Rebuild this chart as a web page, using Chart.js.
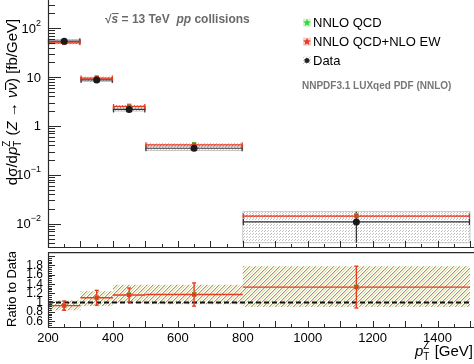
<!DOCTYPE html>
<html>
<head>
<meta charset="utf-8">
<script src="https://cdn.jsdelivr.net/npm/chart.js@4"></script>
<style>
html, body { margin: 0; padding: 0; background: #fff; }
#wrap { position: relative; width: 474px; height: 364px; overflow: hidden; background: #fff; }
canvas { position: absolute; left: 0; }
#top { top: 0; }
#bot { top: 252px; }
</style>
</head>
<body>
<div id="wrap">
  <canvas id="top" width="474" height="252"></canvas>
  <canvas id="bot" width="474" height="112"></canvas>
</div>
<script>
const FONT = "'Liberation Sans', Arial, Helvetica, sans-serif";
const RED = '#e63a22';
const GREEN = '#3bd43b';
const AXIS = '#2a2a2a';

// pT^Z bins [GeV]
const binLo = [200, 300, 400, 500, 800];
const binHi = [300, 400, 500, 800, 1500];
const binMid = [250, 350, 450, 650, 1150];

// top panel, dsigma/dpT [fb/GeV]
const dataVal = [54, 8.7, 2.17, 0.35, 0.0109];
const dataErr = [4.5, 0.65, 0.16, 0.035, 0.0068];
const ewVal = [50, 9.5, 2.5, 0.41, 0.0144];
const ewErr = [2.5, 0.45, 0.12, 0.02, 0.0009];
const qcdVal = [51, 9.9, 2.6, 0.425, 0.0152];

// ratio panel
const ewRatio = [0.93, 1.10, 1.16, 1.17, 1.33];
const qcdRatio = [0.94, 1.11, 1.17, 1.18, 1.34];
const ratioErr = [0.10, 0.16, 0.15, 0.25, 0.45];
const bandLo = [0.83, 0.92, 0.99, 0.96, 0.90];
const bandHi = [1.04, 1.24, 1.38, 1.38, 1.78];

// axis ticks
const logTicks = [0.01, 0.1, 1, 10, 100];
const ratioTicks = [0.6, 0.8, 1, 1.2, 1.4, 1.6, 1.8];
const xTicks = [200, 400, 600, 800, 1000, 1200, 1400];

// fill patterns (pixel drawn so colours stay crisp)
const patCtx = document.createElement('canvas').getContext('2d');
function makePattern(w, h, draw) {
    const c = document.createElement('canvas');
    c.width = w; c.height = h;
    draw(c.getContext('2d'));
    return patCtx.createPattern(c, 'repeat');
}
function diag(g, n, off, color) {
    g.fillStyle = color;
    for (let i = 0; i < n; i++) g.fillRect((i + off) % n, n - 1 - i, 1, 1);
}
const ratioHatch = makePattern(6, 6, g => {
    diag(g, 6, 0, 'rgba(238,110,70,0.95)');
    diag(g, 6, 1, 'rgba(245,170,140,0.5)');
    diag(g, 6, 3, 'rgba(150,200,110,0.6)');
});
const redHatch = makePattern(6, 6, g => { diag(g, 6, 0, 'rgba(230,70,40,0.75)'); diag(g, 6, 3, 'rgba(230,70,40,0.5)'); });
const dotPat = makePattern(3, 3, g => { g.fillStyle = 'rgba(110,110,110,0.42)'; g.fillRect(0, 0, 1, 1); g.fillRect(1, 2, 1, 1); });

function line(ctx, x0, y0, x1, y1) {
    ctx.beginPath(); ctx.moveTo(x0, y0); ctx.lineTo(x1, y1); ctx.stroke();
}

// draws text made of pieces (with stacked sub/superscripts) on one baseline
function drawRich(ctx, parts, x, y, align) {
    const widths = parts.map(p => {
        ctx.font = p.f;
        if (p.sub != null) return Math.max(ctx.measureText(p.sub).width, ctx.measureText(p.sup).width) + 1;
        return ctx.measureText(p.t).width;
    });
    const total = widths.reduce((a, b) => a + b, 0);
    let cx = align === 'center' ? x - total / 2 : align === 'right' ? x - total : x;
    ctx.textAlign = 'left';
    ctx.textBaseline = 'alphabetic';
    parts.forEach((p, i) => {
        ctx.font = p.f;
        if (p.sub != null) {
            ctx.fillText(p.sup, cx, y - p.up);
            ctx.fillText(p.sub, cx, y + p.down);
        } else {
            ctx.fillText(p.t, cx, y);
            if (p.over) ctx.fillRect(cx + 0.5, y - p.over, widths[i], 1.1);
        }
        cx += widths[i];
    });
}

function star(ctx, cx, cy, r, color) {
    ctx.beginPath();
    for (let k = 0; k < 10; k++) {
        const a = -Math.PI / 2 + k * Math.PI / 5;
        const rr = k % 2 ? r * 0.45 : r;
        ctx.lineTo(cx + rr * Math.cos(a), cy + rr * Math.sin(a));
    }
    ctx.closePath();
    ctx.fillStyle = color;
    ctx.fill();
}

const topDecor = {
    id: 'topDecor',
    beforeDatasetsDraw(chart) {
        const { ctx, scales: { x, y } } = chart;
        ctx.save();
        binMid.forEach((m, i) => {
            const x0 = x.getPixelForValue(binLo[i]), x1 = x.getPixelForValue(binHi[i]);
            const xm = x.getPixelForValue(m);
            // data uncertainty box
            const d0 = y.getPixelForValue(dataVal[i] + dataErr[i]);
            const d1 = y.getPixelForValue(dataVal[i] - dataErr[i]);
            ctx.fillStyle = dotPat;
            ctx.fillRect(x0, d0, x1 - x0, d1 - d0);
            ctx.strokeStyle = 'rgba(110,110,110,0.45)'; ctx.lineWidth = 0.8;
            ctx.strokeRect(x0, d0, x1 - x0, d1 - d0);
            // theory (EW) band
            let e0 = y.getPixelForValue(ewVal[i] + ewErr[i]);
            let e1 = y.getPixelForValue(ewVal[i] - ewErr[i]);
            if (e1 - e0 < 3) { const c = (e0 + e1) / 2; e0 = c - 1.5; e1 = c + 1.5; }
            ctx.fillStyle = redHatch;
            ctx.fillRect(x0, e0, x1 - x0, e1 - e0);
            // data line + caps + error bar
            const yd = y.getPixelForValue(dataVal[i]);
            ctx.strokeStyle = '#333'; ctx.lineWidth = 1.2;
            line(ctx, x0, yd, x1, yd);
            line(ctx, x0 + 0.6, yd - 3, x0 + 0.6, yd + 3);
            line(ctx, x1 - 0.6, yd - 3, x1 - 0.6, yd + 3);
            line(ctx, xm, d0, xm, d1);
            // EW line + error bar
            const ye = y.getPixelForValue(ewVal[i]);
            ctx.strokeStyle = RED; ctx.lineWidth = 1.3;
            line(ctx, x0, ye, x1, ye);
            line(ctx, x0 + 0.6, ye - 2.5, x0 + 0.6, ye + 2.5);
            line(ctx, x1 - 0.6, ye - 2.5, x1 - 0.6, ye + 2.5);
            line(ctx, xm, e0, xm, e1);
        });
        ctx.restore();
    },
    afterDraw(chart) {
        const { ctx, chartArea: a, scales: { x, y } } = chart;
        ctx.save();
        // frame
        ctx.strokeStyle = AXIS; ctx.lineWidth = 1.2;
        line(ctx, a.left + 0.5, 0, a.left + 0.5, a.bottom);
        line(ctx, a.left, a.bottom - 0.5, 474, a.bottom - 0.5);
        // log ticks
        ctx.lineWidth = 1;
        for (let e = -3; e <= 2; e++) {
            for (let k = 1; k <= 9; k++) {
                const v = k * Math.pow(10, e);
                if (v < y.min || v > y.max) continue;
                const py = Math.round(y.getPixelForValue(v)) + 0.5;
                line(ctx, a.left, py, a.left + (k === 1 ? 13 : 7), py);
            }
        }
        // x ticks
        for (let v = 200; v <= 1500; v += 50) {
            const px = Math.round(x.getPixelForValue(v)) + 0.5;
            line(ctx, px, a.bottom, px, a.bottom - (v % 100 === 0 ? 7 : 4));
        }
        // log tick labels
        ctx.fillStyle = '#000';
        ctx.textBaseline = 'middle';
        logTicks.forEach(v => {
            const py = y.getPixelForValue(v);
            const ex = Math.round(Math.log10(v));
            const right = 41;
            if (ex === 0 || ex === 1) {
                ctx.font = '13px ' + FONT; ctx.textAlign = 'right';
                ctx.fillText(ex === 0 ? '1' : '10', right, py + 1);
            } else {
                const sup = ex < 0 ? '\u2212' + (-ex) : String(ex);
                ctx.font = '9px ' + FONT;
                const sw = ctx.measureText(sup).width;
                ctx.textAlign = 'left';
                ctx.fillText(sup, right - sw, py - 5);
                ctx.font = '13px ' + FONT; ctx.textAlign = 'right';
                ctx.fillText('10', right - sw, py + 1);
            }
        });
        // y title (rotated)
        ctx.save();
        ctx.translate(17, 102);
        ctx.rotate(-Math.PI / 2);
        ctx.fillStyle = '#000';
        const n = '15px ' + FONT, it = 'italic 15px ' + FONT;
        drawRich(ctx, [
            { t: 'd\u03C3/d', f: n },
            { t: 'p', f: it },
            { sub: 'T', sup: 'Z', f: '10px ' + FONT, up: 7, down: 4 },
            { t: ' (', f: n },
            { t: 'Z', f: it },
            { t: ' \u2192 ', f: n },
            { t: '\u03BD', f: it },
            { t: '\u03BD', f: it, over: 12 },
            { t: ') [fb/GeV]', f: n }
        ], 0, 0, 'center');
        ctx.restore();
        // energy label
        ctx.fillStyle = '#6a6a6a';
        const b = 'bold 12px ' + FONT, bi = 'italic bold 12px ' + FONT;
        drawRich(ctx, [
            { t: '\u221A', f: b },
            { t: 's', f: bi, over: 10 },
            { t: ' = 13 TeV  ', f: b },
            { t: 'pp', f: bi },
            { t: ' collisions', f: b }
        ], 105, 23, 'left');
        // legend
        const rows = [
            { label: 'NNLO QCD', y: 22.7 },
            { label: 'NNLO QCD+NLO EW', y: 41.7 },
            { label: 'Data', y: 60.5 }
        ];
        ctx.fillStyle = 'rgba(60,220,60,0.25)'; ctx.fillRect(303, rows[0].y - 4, 8, 8);
        star(ctx, 307, rows[0].y, 4, GREEN);
        ctx.fillStyle = 'rgba(230,60,30,0.25)'; ctx.fillRect(303, rows[1].y - 4, 8, 8);
        star(ctx, 307, rows[1].y, 4, RED);
        ctx.fillStyle = dotPat; ctx.fillRect(303, rows[2].y - 4, 8, 8);
        ctx.fillStyle = '#222';
        ctx.beginPath(); ctx.arc(307, rows[2].y, 2.5, 0, Math.PI * 2); ctx.fill();
        ctx.fillStyle = '#000'; ctx.font = '13px ' + FONT;
        ctx.textAlign = 'left'; ctx.textBaseline = 'middle';
        rows.forEach(r => ctx.fillText(r.label, 313, r.y + 1));
        ctx.fillStyle = '#777'; ctx.font = 'bold 10px ' + FONT;
        ctx.fillText('NNPDF3.1 LUXqed PDF (NNLO)', 302, 86.5);
        ctx.restore();
    }
};

const botDecor = {
    id: 'botDecor',
    beforeDatasetsDraw(chart) {
        const { ctx, chartArea: a, scales: { x, y } } = chart;
        ctx.save();
        binMid.forEach((m, i) => {
            const x0 = x.getPixelForValue(binLo[i]), x1 = x.getPixelForValue(binHi[i]);
            const b0 = y.getPixelForValue(bandHi[i]), b1 = y.getPixelForValue(bandLo[i]);
            ctx.fillStyle = ratioHatch;
            ctx.fillRect(x0, b0, x1 - x0, b1 - b0);
        });
        // data reference at 1
        const y1 = y.getPixelForValue(1);
        ctx.strokeStyle = '#111'; ctx.lineWidth = 2; ctx.setLineDash([5, 3]);
        line(ctx, a.left, y1, a.right + 1, y1);
        ctx.setLineDash([]);
        binMid.forEach((m, i) => {
            const x0 = x.getPixelForValue(binLo[i]), x1 = x.getPixelForValue(binHi[i]);
            const xm = x.getPixelForValue(m);
            const yr = y.getPixelForValue(ewRatio[i]);
            const t = y.getPixelForValue(ewRatio[i] + ratioErr[i]);
            const bt = y.getPixelForValue(ewRatio[i] - ratioErr[i]);
            ctx.strokeStyle = RED; ctx.lineWidth = 1.4;
            line(ctx, x0, yr, x1, yr);
            line(ctx, xm, t, xm, bt);
            line(ctx, xm - 2, t, xm + 2, t);
            line(ctx, xm - 2, bt, xm + 2, bt);
        });
        ctx.restore();
    },
    afterDraw(chart) {
        const { ctx, chartArea: a, scales: { x, y } } = chart;
        ctx.save();
        ctx.strokeStyle = AXIS; ctx.lineWidth = 1.2;
        line(ctx, a.left, 0.6, 474, 0.6);
        line(ctx, a.left + 0.5, 0, a.left + 0.5, a.bottom);
        line(ctx, a.left, a.bottom + 0.5, 474, a.bottom + 0.5);
        ctx.lineWidth = 1;
        // y ticks
        for (let k = 12; k <= 50; k++) {
            const v = k * 0.04;
            if (v < y.min || v > y.max) continue;
            const py = Math.round(y.getPixelForValue(v)) + 0.5;
            line(ctx, a.left, py, a.left + (k % 5 === 0 ? 7 : 4), py);
        }
        // x ticks
        for (let v = 200; v <= 1500; v += 50) {
            const px = Math.round(x.getPixelForValue(v)) + 0.5;
            line(ctx, px, a.bottom, px, a.bottom - (v % 100 === 0 ? 6 : 3));
        }
        ctx.fillStyle = '#000';
        ctx.font = '12px ' + FONT;
        ctx.textAlign = 'right'; ctx.textBaseline = 'middle';
        ratioTicks.forEach(v => ctx.fillText(String(+v.toFixed(1)), 43, y.getPixelForValue(v) + 0.5));
        ctx.font = '13px ' + FONT;
        ctx.textAlign = 'center';
        xTicks.forEach(v => ctx.fillText(String(v), x.getPixelForValue(v), 86));
        // x title
        drawRich(ctx, [
            { t: 'p', f: 'italic 15px ' + FONT },
            { sub: 'T', sup: 'Z', f: '10px ' + FONT, up: 7, down: 4 },
            { t: ' [GeV]', f: '15px ' + FONT }
        ], 473, 104, 'right');
        // ratio title
        ctx.translate(16, 37);
        ctx.rotate(-Math.PI / 2);
        ctx.font = '13px ' + FONT; ctx.textAlign = 'center'; ctx.textBaseline = 'alphabetic';
        ctx.fillText('Ratio to Data', 0, 0);
        ctx.restore();
    }
};

const common = {
    responsive: false,
    animation: false,
    events: [],
    plugins: { legend: { display: false }, tooltip: { enabled: false } }
};

// dataset 0 is drawn last (on top)
new Chart(document.getElementById('top'), {
    type: 'scatter',
    data: {
        datasets: [
            { label: 'Data', data: binMid.map((x, i) => ({ x, y: dataVal[i] })), pointStyle: 'circle', pointRadius: 3.5, backgroundColor: '#1a1a1a', borderWidth: 0 },
            { label: 'NNLO QCD+NLO EW', data: binMid.map((x, i) => ({ x, y: ewVal[i] })), pointStyle: 'rect', pointRadius: 3, backgroundColor: RED, borderWidth: 0 },
            { label: 'NNLO QCD', data: binMid.map((x, i) => ({ x, y: qcdVal[i] })), pointStyle: 'rect', pointRadius: 3, backgroundColor: GREEN, borderWidth: 0 }
        ]
    },
    options: {
        ...common,
        layout: { padding: { left: 48, right: 1, top: 0, bottom: 4 } },
        scales: {
            x: { type: 'linear', min: 200, max: 1500, display: false },
            y: { type: 'logarithmic', min: 0.0032, max: 310, display: false }
        }
    },
    plugins: [topDecor]
});

new Chart(document.getElementById('bot'), {
    type: 'scatter',
    data: {
        datasets: [
            { label: 'NNLO QCD+NLO EW', data: binMid.map((x, i) => ({ x, y: ewRatio[i] })), pointStyle: 'rect', pointRadius: 3, backgroundColor: RED, borderWidth: 0 },
            { label: 'NNLO QCD', data: binMid.map((x, i) => ({ x, y: qcdRatio[i] })), pointStyle: 'rect', pointRadius: 3, backgroundColor: GREEN, borderWidth: 0 }
        ]
    },
    options: {
        ...common,
        layout: { padding: { left: 48, right: 1, top: 0, bottom: 37 } },
        scales: {
            x: { type: 'linear', min: 200, max: 1500, display: false },
            y: { type: 'linear', min: 0.47, max: 2.0, display: false }
        }
    },
    plugins: [botDecor]
});
</script>
</body>
</html>
